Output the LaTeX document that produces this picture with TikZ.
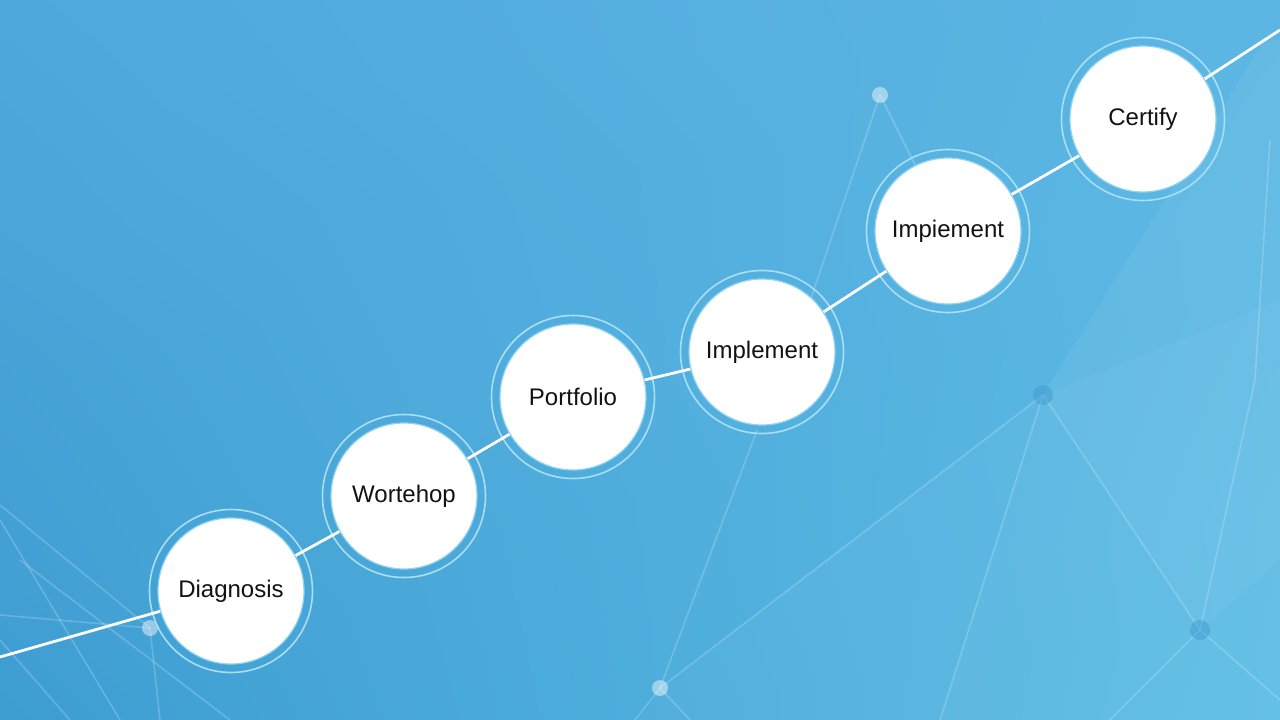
\documentclass[tikz,border=0pt]{standalone}
\usepackage{fontspec}
\setmainfont{Liberation Sans}
\usetikzlibrary{shadings}
\definecolor{bgUL}{HTML}{4FA8DC}
\definecolor{bgUR}{HTML}{5CB6E3}
\definecolor{bgLL}{HTML}{3E9DD1}
\definecolor{bgLR}{HTML}{5CBDE5}
\definecolor{ringcol}{HTML}{A8DFF5}
\definecolor{diskedge}{HTML}{8FD3F0}
\definecolor{txt}{HTML}{121212}
\definecolor{darknode}{HTML}{3F9ED3}
\tikzset{
  ring/.style={circle, draw=ringcol, line width=1.6pt, minimum size=163pt, inner sep=0pt},
  disk/.style={circle, fill=white, draw=diskedge, line width=1.2pt, minimum size=146pt, inner sep=0pt,
               text=txt, font=\fontsize{24}{28}\selectfont},
  link/.style={draw=white, line width=2.8pt},
  net/.style={draw=white, line width=1.6pt, opacity=0.2},
  glow/.style={circle, fill=white, opacity=0.45, minimum size=16pt, inner sep=0pt},
  dnode/.style={circle, fill=darknode, opacity=0.5, minimum size=20pt, inner sep=0pt}
}
\begin{document}
\begin{tikzpicture}[x=1pt, y=-1pt]
\useasboundingbox (0,0) rectangle (1280,720);
% background
\shade[upper left=bgUL, upper right=bgUR, lower left=bgLL, lower right=bgLR] (0,0) rectangle (1280,720);
% lighter facets
\fill[white, opacity=0.06] (1043,395) -- (1265,40) -- (1280,40) -- (1280,720) -- (940,720) -- cycle;
\fill[white, opacity=0.04] (1043,395) -- (1200,630) -- (1280,560) -- (1280,300) -- cycle;
\fill[white, opacity=0.03] (660,688) -- (1043,395) -- (940,720) -- (640,720) -- cycle;
% network lines
\coordinate (p1) at (880,95);
\coordinate (p2) at (660,688);
\coordinate (p3) at (1043,395);
\coordinate (p4) at (1200,630);
\coordinate (p5) at (150,628);
\draw[net] (p1) -- (790,360);
\draw[net] (p1) -- (915,165);
\draw[net] (757,430) -- (p2);
\draw[net] (p2) -- (p3);
\draw[net] (p2) -- (635,720);
\draw[net] (p2) -- (690,720);
\draw[net] (p3) -- (940,720);
\draw[net] (p3) -- (p4);
\draw[net] (p4) -- (1110,720);
\draw[net] (p4) -- (1280,700);
\draw[net] (p4) -- (1255,380);
\draw[net] (1255,380) -- (1270,140);
\draw[net] (0,505) -- (p5);
\draw[net] (0,520) -- (120,720);
\draw[net] (0,615) -- (p5);
\draw[net] (0,640) -- (70,720);
\draw[net] (20,560) -- (230,720);
\draw[net] (p5) -- (160,720);
\node[glow] (g1) at (p1) {};
\node[glow] (g2) at (p2) {};
\node[glow] (g5) at (p5) {};
\node[dnode] (d3) at (p3) {};
\node[dnode] (d4) at (p4) {};
% steps
\node[ring] (r1) at (231,591) {};
\node[ring] (r2) at (404,496) {};
\node[ring] (r3) at (573,397) {};
\node[ring] (r4) at (762,352) {};
\node[ring] (r5) at (948,231) {};
\node[ring] (r6) at (1143,119) {};
\node[disk] (s1) at (r1) {Diagnosis};
\node[disk] (s2) at (r2) {Wortehop};
\node[disk] (s3) at (r3) {Portfolio};
\node[disk] (s4) at (r4) {Implement};
\node[disk] (s5) at (r5) {Impiement};
\node[disk] (s6) at (r6) {Certify};
\coordinate (lin) at (0,657);
\coordinate (lout) at (1280,30);
\draw[link] (lin) -- (s1);
\draw[link] (s1) -- (s2);
\draw[link] (s2) -- (s3);
\draw[link] (s3) -- (s4);
\draw[link] (s4) -- (s5);
\draw[link] (s5) -- (s6);
\draw[link] (s6) -- (lout);
\end{tikzpicture}
\end{document}
